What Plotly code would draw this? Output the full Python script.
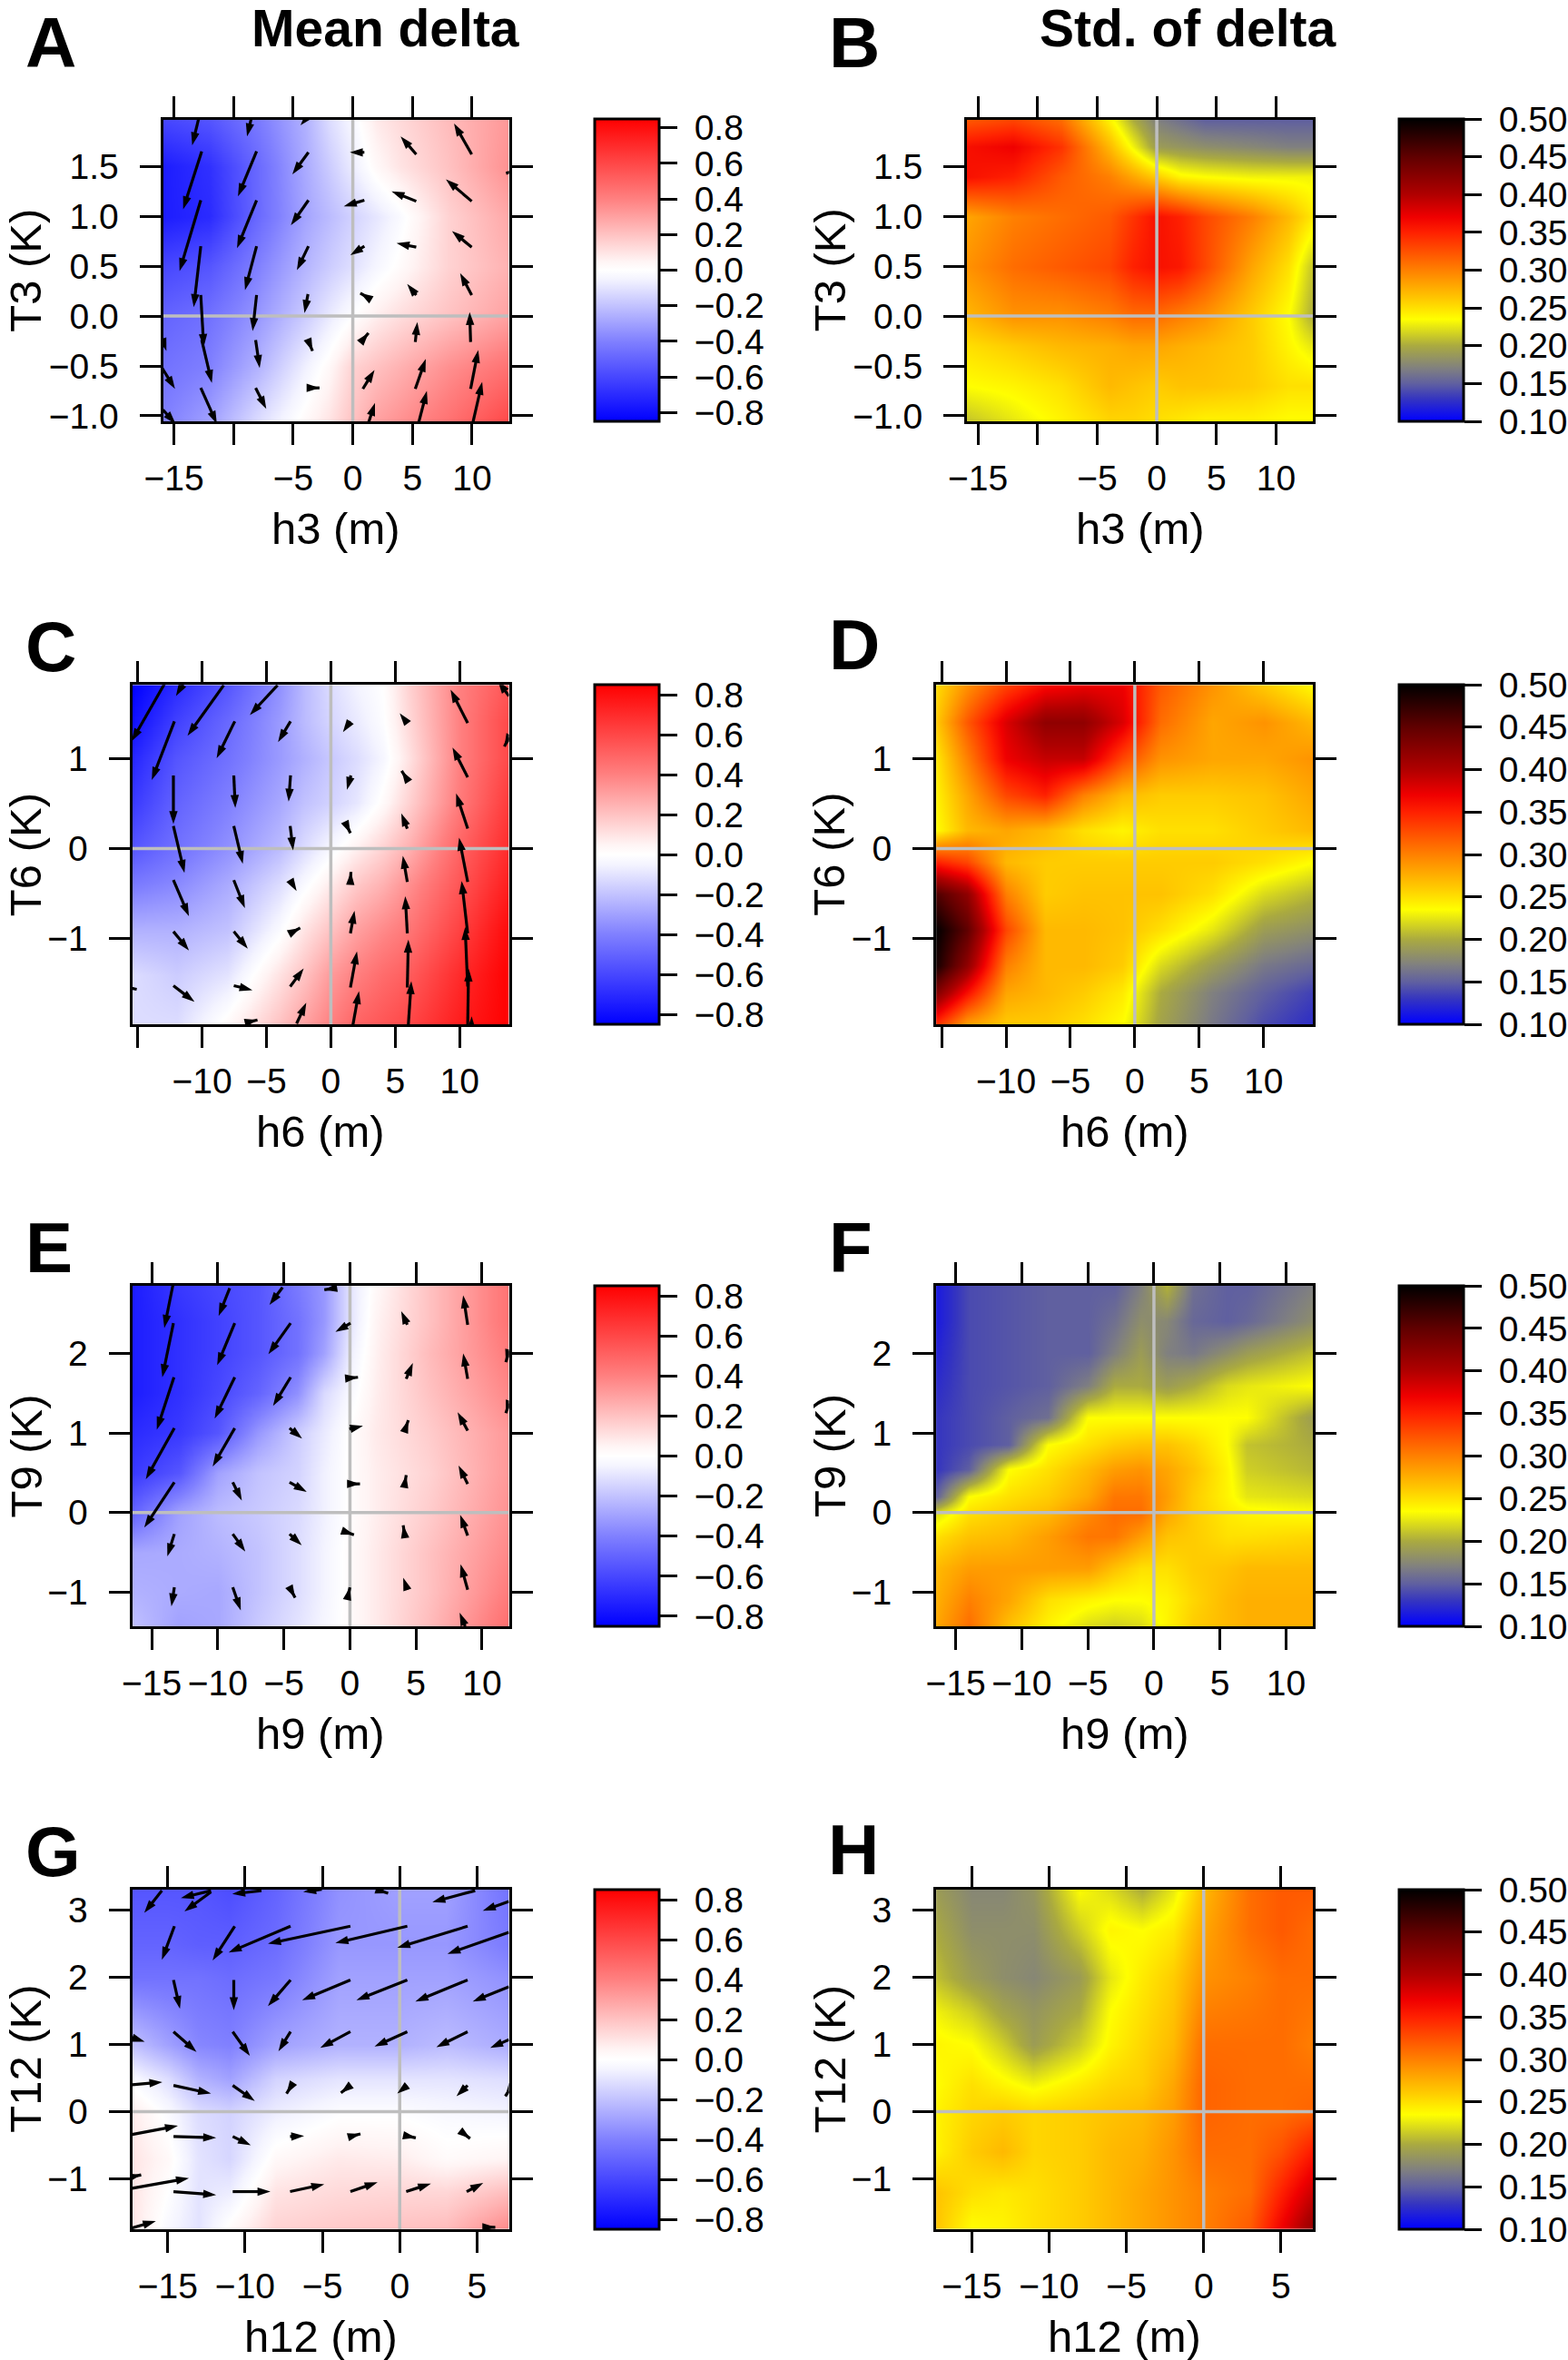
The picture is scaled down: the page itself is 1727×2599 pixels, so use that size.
import plotly.graph_objects as go

W, H = 1727, 2599
FONT = "Liberation Sans"
M = "\u2212"

# ---------- data: mean delta grids (rows listed from top of plot to bottom) ----------
X_A = [-16, -12, -8, -4, -2, 0, 2, 4, 8, 13.1]
Y_A = [1.97, 1.5, 1.0, 0.5, 0, -0.5, -1.06]
Z_A = [
 [-.6,-.55,-.42,-.25,-.12,-.03,.08,.13,.22,.33],
 [-.75,-.68,-.48,-.27,-.17,-.07,.03,.1,.2,.35],
 [-.75,-.7,-.48,-.29,-.22,-.15,-.09,-.02,.15,.28],
 [-.6,-.55,-.4,-.24,-.17,-.11,-.04,.02,.15,.25],
 [-.5,-.45,-.33,-.17,-.08,0,.07,.12,.2,.3],
 [-.45,-.4,-.25,-.06,.03,.15,.2,.25,.35,.45],
 [-.4,-.3,-.12,.03,.1,.2,.3,.35,.45,.6],
]
X_C = [-15.5, -12, -8, -4, -2, 0, 2, 4, 6, 10, 13.9]
Y_C = [1.82, 1.4, 1, .5, 0, -.4, -.9, -1.4, -1.96]
Z_C = [
 [-.85,-.7,-.55,-.35,-.22,-.12,-.05,0,.15,.4,.55],
 [-.8,-.62,-.48,-.32,-.22,-.14,-.08,-.01,.13,.4,.6],
 [-.72,-.55,-.45,-.32,-.25,-.18,-.12,-.04,.1,.4,.6],
 [-.65,-.5,-.4,-.28,-.2,-.15,-.09,.02,.15,.42,.65],
 [-.55,-.45,-.35,-.22,-.12,-.03,.06,.15,.25,.5,.7],
 [-.42,-.37,-.27,-.12,-.02,.08,.18,.25,.35,.55,.75],
 [-.25,-.25,-.2,-.02,.1,.2,.3,.37,.43,.62,.82],
 [-.12,-.17,-.1,.1,.2,.32,.4,.47,.52,.7,.85],
 [-.12,-.12,.03,.2,.3,.4,.5,.55,.6,.75,.85],
]
X_E = [-16.5, -13, -10, -7, -4, -2, 0, 2, 6, 12.1]
Y_E = [2.86, 2.4, 2, 1.5, 1, .5, 0, -.5, -1, -1.44]
Z_E = [
 [-.75,-.65,-.6,-.55,-.42,-.33,-.1,.03,.2,.45],
 [-.75,-.68,-.62,-.55,-.45,-.33,-.1,.05,.2,.45],
 [-.75,-.68,-.62,-.55,-.45,-.3,-.07,.06,.22,.42],
 [-.75,-.68,-.6,-.5,-.35,-.13,-.03,.07,.2,.38],
 [-.7,-.65,-.55,-.33,-.17,-.08,.01,.08,.17,.33],
 [-.65,-.55,-.3,-.2,-.15,-.06,.01,.07,.15,.33],
 [-.5,-.3,-.22,-.18,-.13,-.06,.01,.07,.17,.35],
 [-.28,-.27,-.25,-.2,-.12,-.05,.02,.08,.2,.38],
 [-.25,-.27,-.28,-.2,-.12,-.05,.02,.08,.2,.42],
 [-.2,-.3,-.28,-.18,-.1,-.04,.02,.08,.22,.47],
]
X_G = [-17.4, -15, -13, -11, -8, -4, 0, 3, 7.1]
Y_G = [3.32, 2.5, 2, 1, .5, 0, -.7, -1.2, -1.76]
Z_G = [
 [-.55,-.55,-.55,-.58,-.5,-.35,-.3,-.3,-.45],
 [-.5,-.5,-.52,-.52,-.47,-.33,-.33,-.33,-.42],
 [-.45,-.45,-.45,-.47,-.43,-.3,-.3,-.3,-.35],
 [-.2,-.3,-.38,-.4,-.3,-.25,-.25,-.22,-.27],
 [-.02,-.12,-.25,-.3,-.15,-.1,-.1,-.1,-.12],
 [.08,-.02,-.12,-.15,-.07,-.01,-.01,-.03,-.05],
 [.1,.03,-.1,-.14,.03,.08,.07,.02,.05],
 [.1,0,-.1,-.07,.1,.13,.14,.14,.22],
 [.1,-.03,-.1,.02,.15,.18,.2,.22,.38],
]

# ---------- data: std of delta grids ----------
X_B = [-16, -12, -8, -4, -2, 0, 2, 4, 8, 11, 13.1]
Y_B = [1.97, 1.7, 1.4, 1, .5, 0, -.3, -.7, -1.06]
Z_B = [
 [.32,.33,.31,.24,.2,.17,.16,.15,.15,.15,.15],
 [.36,.37,.34,.27,.23,.19,.185,.18,.175,.17,.17],
 [.36,.35,.32,.3,.28,.26,.24,.235,.23,.23,.23],
 [.28,.3,.31,.32,.34,.36,.35,.33,.3,.27,.245],
 [.29,.31,.32,.33,.35,.36,.355,.33,.28,.25,.21],
 [.27,.29,.29,.3,.31,.31,.3,.29,.26,.235,.2],
 [.25,.26,.27,.275,.28,.28,.275,.27,.26,.24,.225],
 [.235,.24,.25,.27,.265,.26,.265,.265,.26,.25,.25],
 [.21,.225,.24,.255,.255,.25,.245,.24,.24,.235,.235],
]
X_D = [-15.5, -13, -10, -7, -4, -1, 2, 6, 10, 13.9]
Y_D = [1.82, 1.4, 1, .6, .2, -.15, -.5, -.9, -1.3, -1.6, -1.96]
Z_D = [
 [.25,.29,.33,.36,.37,.37,.32,.29,.26,.235],
 [.26,.32,.38,.42,.42,.38,.31,.28,.29,.27],
 [.245,.3,.37,.39,.39,.33,.29,.28,.28,.29],
 [.24,.28,.33,.35,.30,.27,.26,.26,.265,.28],
 [.235,.27,.28,.27,.25,.24,.25,.25,.26,.27],
 [.35,.33,.27,.26,.26,.26,.26,.26,.25,.235],
 [.46,.42,.3,.26,.265,.265,.265,.25,.22,.205],
 [.5,.45,.33,.27,.27,.265,.25,.225,.19,.18],
 [.49,.42,.3,.27,.27,.26,.22,.19,.165,.155],
 [.43,.36,.28,.27,.26,.245,.2,.17,.15,.135],
 [.34,.28,.26,.26,.25,.235,.195,.165,.14,.125],
]
X_F = [-16.5, -14, -11, -8, -5, -3, -1, 1, 3, 5.5, 7, 12.1]
Y_F = [2.86, 2.4, 2, 1.6, 1.2, .85, .55, .2, 0, -.3, -.7, -1.1, -1.44]
Z_F = [
 [.115,.14,.145,.15,.15,.15,.17,.205,.16,.15,.15,.17],
 [.115,.14,.145,.15,.15,.16,.18,.175,.155,.15,.155,.18],
 [.12,.14,.145,.15,.15,.17,.19,.17,.165,.18,.19,.21],
 [.125,.14,.145,.15,.17,.2,.2,.19,.2,.22,.225,.235],
 [.13,.14,.15,.16,.235,.235,.235,.235,.235,.235,.235,.19],
 [.13,.14,.15,.235,.25,.26,.265,.265,.255,.235,.21,.2],
 [.13,.15,.235,.25,.27,.285,.29,.28,.265,.24,.215,.205],
 [.15,.235,.25,.26,.28,.305,.305,.285,.26,.24,.225,.22],
 [.22,.25,.26,.27,.295,.31,.31,.28,.26,.245,.24,.235],
 [.25,.265,.27,.285,.305,.305,.285,.265,.26,.25,.25,.255],
 [.27,.285,.285,.285,.285,.265,.25,.25,.26,.265,.27,.27],
 [.275,.3,.28,.25,.24,.235,.235,.24,.255,.27,.275,.275],
 [.28,.31,.265,.24,.22,.215,.22,.24,.26,.27,.275,.275],
]
X_H = [-17.4, -15, -13, -11, -8, -6, -4, -2, 0, 3, 5, 7.1]
Y_H = [3.32, 2.7, 2, 1.5, 1, .4, 0, -.6, -1.2, -1.76]
Z_H = [
 [.19,.175,.175,.185,.235,.22,.2,.225,.27,.31,.32,.32],
 [.2,.18,.18,.18,.215,.24,.235,.245,.28,.31,.32,.31],
 [.21,.19,.18,.175,.19,.225,.245,.26,.29,.3,.31,.31],
 [.23,.215,.195,.185,.2,.235,.25,.265,.3,.305,.31,.305],
 [.24,.235,.215,.19,.215,.24,.255,.27,.31,.31,.31,.3],
 [.235,.25,.24,.23,.245,.255,.26,.28,.315,.31,.31,.31],
 [.24,.255,.26,.255,.26,.265,.27,.285,.315,.31,.31,.315],
 [.24,.26,.27,.255,.26,.27,.275,.29,.31,.31,.325,.355],
 [.265,.25,.245,.25,.26,.27,.28,.29,.3,.31,.35,.39],
 [.265,.235,.24,.25,.26,.27,.28,.29,.3,.32,.37,.42],
]

# ---------- data: arrows (tail h, tail T, head h, head T) ----------
ARROWS_A = [
 (-12.7,2.09,-13.47,1.71),(-12.67,1.65,-14.23,1.07),(-12.75,1.16,-14.53,.45),(-12.75,.70,-13.34,.09),
 (-12.75,.21,-12.5,-.31),(-12.67,-.24,-11.82,-.67),(-12.75,-.72,-11.4,-1.08),
 (-8.3,2.09,-8.87,1.80),(-8.07,1.65,-9.63,1.20),(-8.07,1.16,-9.71,.68),(-8.07,.70,-9.04,.26),
 (-8.07,.21,-8.40,-.15),(-8.15,-.24,-7.81,-.52),(-8.15,-.72,-7.26,-.93),
 (-3.67,2.01,-4.39,1.91),(-3.72,1.64,-5.07,1.42),(-3.72,1.16,-5.19,.91),(-3.72,.70,-4.69,.46),
 (-3.76,.22,-4.05,.03),(-3.76,-.24,-3.38,-.35),(-3.76,-.72,-2.79,-.72),
 (.97,1.64,-.25,1.64),(.97,1.16,-.76,1.10),(.97,.70,-.21,.61),(1.18,.19,.63,.23),
 (.76,-.25,1.31,-.17),(.84,-.73,1.82,-.54),(1.18,-1.12,1.86,-.87),
 (5.32,1.62,4.01,1.80),(5.32,1.15,3.25,1.25),(5.32,.69,3.67,.73),(5.32,.21,4.56,.32),
 (5.24,-.26,5.41,-.06),(5.24,-.73,6.12,-.43),(5.41,-1.12,6.21,-.75),
 (9.97,1.62,8.49,1.93),(9.97,1.15,7.81,1.37),(9.97,.69,8.32,.85),(9.97,.21,9.0,.43),
 (9.88,-.26,9.8,.04),(9.88,-.73,10.52,-.34),(9.97,-1.12,10.85,-.66),
 (-16.05,-.20,-15.63,-.35),(-16.1,-.5,-14.91,-.73),(-15.92,-.94,-14.86,-1.08),(13.4,1.45,12.85,1.43),
]
ARROWS_C = [
 (-12.62,1.90,-15.47,1.19),(-11.33,1.86,-12.03,1.69),(-12.15,1.41,-13.91,.76),(-12.23,.81,-12.23,.27),
 (-12.23,.25,-11.37,-.27),(-12.23,-.35,-11.02,-.75),(-12.23,-.92,-11.02,-1.13),(-12.23,-1.52,-10.59,-1.70),
 (-8.32,1.81,-11.13,1.25),(-7.46,1.41,-8.87,1.0),(-7.54,.81,-7.42,.45),(-7.54,.25,-6.84,-.17),
 (-7.54,-.35,-6.68,-.66),(-7.54,-.92,-6.45,-1.11),(-7.54,-1.52,-6.09,-1.57),(-6.3,-1.92,-5.7,-1.90),
 (-4.14,1.81,-6.29,1.48),(-3.13,1.41,-4.1,1.18),(-3.13,.81,-3.28,.52),(-3.16,.25,-2.93,-.02),
 (-3.16,-.35,-2.66,-.47),(-3.16,-.94,-2.38,-.88),(-3.16,-1.53,-2.11,-1.33),(-2.66,-1.94,-1.91,-1.71),
 (1.52,1.41,.94,1.29),(1.56,.81,1.25,.65),(1.25,.25,1.52,.17),(1.52,-.37,1.56,-.26),
 (1.52,-.94,1.84,-.69),(1.52,-1.54,2.03,-1.14),(1.72,-1.95,2.19,-1.58),
 (5.94,1.39,5.35,1.5),(5.86,.78,5.5,.86),(5.94,.22,5.47,.39),(5.94,-.37,5.59,-.08),
 (5.94,-.94,5.78,-.53),(5.94,-1.54,6.02,-1.01),(6.02,-1.95,6.25,-1.47),
 (10.63,1.39,9.3,1.76),(10.63,.79,9.45,1.12),(10.63,.22,9.73,.61),(10.63,-.37,9.96,.12),
 (10.63,-.94,10.16,-.36),(10.63,-1.53,10.43,-.87),(10.63,-1.95,10.7,-1.33),(10.9,-2.1,10.94,-1.86),
 (13.83,1.69,12.97,1.86),(13.83,1.23,13.48,1.13),(-15.8,-1.54,-15.08,-1.56),
]
ARROWS_E = [
 (-13.36,2.89,-14.05,2.32),(-13.36,2.38,-14.2,1.70),(-13.32,1.70,-14.62,1.04),(-13.29,1.06,-15.45,.42),
 (-13.29,.38,-15.57,-.19),(-13.29,-.27,-13.82,-.55),(-13.29,-.94,-13.51,-1.18),
 (-9.1,2.82,-9.94,2.47),(-8.72,2.38,-10.05,1.85),(-8.72,1.70,-10.24,1.18),(-8.72,1.06,-10.39,.58),
 (-8.87,.38,-8.18,.15),(-8.87,-.27,-7.92,-.49),(-8.87,-.94,-8.26,-1.23),
 (-5.1,2.83,-6.09,2.61),(-4.49,2.38,-6.17,1.99),(-4.49,1.70,-5.82,1.34),(-4.57,1.06,-3.62,.93),
 (-4.57,.38,-3.27,.26),(-4.57,-.27,-3.65,-.41),(-4.57,-.94,-4.15,-1.07),(-1.18,2.82,-1.94,2.80),
 (.04,2.38,-1.1,2.27),(-.04,1.69,.61,1.70),(-.04,1.05,.99,1.09),(-.04,.36,.76,.36),
 (-.23,-.25,.3,-.28),(-.11,-1.02,0,-.94),
 (4.34,2.36,3.88,2.53),(4.26,1.68,4.76,1.88),(4.15,1.03,4.42,1.16),(4.15,.36,4.26,.47),
 (4.15,-.29,4.03,-.16),(4.34,-.97,4.03,-.82),
 (8.91,2.36,8.57,2.73),(8.91,1.68,8.57,2.0),(8.91,1.03,8.15,1.26),(8.91,.36,8.22,.59),
 (8.91,-.29,8.34,-.03),(8.91,-.97,8.37,-.65),(8.72,-1.43,8.3,-1.26),
 (12.03,2.03,11.8,1.89),(12.03,1.37,11.8,1.25),
]
ARROWS_G = [
 (-15.38,3.29,-16.52,2.96),(-12.2,3.29,-14.15,3.18),(-12.2,3.27,-13.92,2.98),(-8.94,3.29,-10.83,3.24),
 (-5.04,3.31,-6.24,3.27),(-1.3,3.29,-.75,3.25),(4.88,3.29,2.11,3.12),(7.06,3.13,5.37,2.99),
 (-14.57,2.76,-15.38,2.26),(-10.67,2.76,-12.1,2.25),(-7.06,2.76,-11.06,2.37),(-3.19,2.76,-8.52,2.5),
 (.49,2.76,-4.16,2.51),(4.39,2.76,-.16,2.44),(7.06,2.67,3.09,2.35),
 (-14.63,1.96,-14.21,1.53),(-10.73,1.96,-10.73,1.51),(-7.06,1.96,-8.52,1.57),(-3.19,1.96,-6.31,1.66),
 (.49,1.96,-2.8,1.66),(4.39,1.96,1.01,1.64),(7.06,1.86,4.72,1.64),
 (-17.3,1.10,-16.49,1.04),(-14.63,1.19,-13.14,.89),(-10.8,1.19,-9.69,.83),(-7.06,1.19,-7.84,.9),
 (-3.19,1.19,-5.14,.95),(.49,1.19,-1.63,.97),(4.39,1.19,2.37,.96),(7.06,1.07,5.85,.95),
 (-17.3,.40,-15.35,.44),(-14.63,.39,-12.2,.27),(-10.8,.39,-9.37,.16),(-6.99,.39,-7.32,.27),
 (-3.19,.39,-3.8,.28),(.49,.39,-.16,.27),(4.39,.39,3.67,.23),(7.06,.31,6.83,.23),
 (-17.3,-.34,-14.34,-.21),(-14.63,-.37,-11.87,-.39),(-10.8,-.37,-9.63,-.5),(-7.09,-.37,-6.18,-.36),
 (-3.19,-.37,-2.54,-.33),(.42,-.36,1.04,-.39),(4.1,-.32,4.55,-.4),
 (-17.3,-.97,-16.72,-.94),(-17.3,-1.14,-13.63,-.99),(-14.63,-1.19,-11.87,-1.24),(-10.8,-1.19,-8.36,-1.19),
 (-7.09,-1.19,-4.88,-1.08),(-3.19,-1.19,-1.43,-1.05),(.42,-1.19,2.02,-1.07),(4.33,-1.19,5.4,-1.06),
 (-17.3,-1.73,-15.77,-1.63),(5.69,-1.72,6.18,-1.72),
]

# ---------- data: tick labels ----------
XT_3 = [-15, -10, -5, 0, 5, 10]
XL_3 = [M+"15", "", M+"5", "0", "5", "10"]
XL_6 = ["", M+"10", M+"5", "0", "5", "10"]
XL_9 = [M+"15", M+"10", M+"5", "0", "5", "10"]
XT_12 = [-15, -10, -5, 0, 5]
XL_12 = [M+"15", M+"10", M+"5", "0", "5"]
YT_3 = [-1, -.5, 0, .5, 1, 1.5]
YL_3 = [M+"1.0", M+"0.5", "0.0", "0.5", "1.0", "1.5"]
YT_6 = [-1, 0, 1]
YL_6 = [M+"1", "0", "1"]
YT_9 = [-1, 0, 1, 2]
YL_9 = [M+"1", "0", "1", "2"]
YT_12 = [-1, 0, 1, 2, 3]
YL_12 = [M+"1", "0", "1", "2", "3"]

CB_MEAN_T = [-.8, -.6, -.4, -.2, 0, .2, .4, .6, .8]
CB_MEAN_L = [M+"0.8", M+"0.6", M+"0.4", M+"0.2", "0.0", "0.2", "0.4", "0.6", "0.8"]
CB_STD_T = [.1, .15, .2, .25, .3, .35, .4, .45, .5]
CB_STD_L = ["0.10", "0.15", "0.20", "0.25", "0.30", "0.35", "0.40", "0.45", "0.50"]

# ---------- colours ----------
MEAN_RANGE = (-.85, .85)
STD_RANGE = (.1, .5)
MEAN_STOPS = [(-.85,"#0000ff"),(-.4,"#8080ff"),(-.05,"#f4f4ff"),(0,"#ffffff"),(.05,"#fff4f4"),(.4,"#ff8080"),(.85,"#ff0000")]
STD_STOPS = [(.10,"#0000ff"),(.13,"#3535c0"),(.15,"#6060a0"),(.17,"#808080"),(.20,"#aaaa40"),(.235,"#ffff00"),
             (.26,"#ffcc00"),(.30,"#ff8000"),(.35,"#ff2000"),(.37,"#f00000"),(.40,"#b00000"),(.45,"#600000"),(.50,"#000000")]
def cscale(stops, rng):
    return [[(v-rng[0])/(rng[1]-rng[0]), c] for v, c in stops]

# ---------- layout geometry in px ----------
ROWS = [(131.5, 464), (754.3, 1128), (1416, 1791), (2080.6, 2455)]
LEFTS = [179.5, 145.6, 145.6, 145.6]
RIGHT_END = 560.5
COL_OFF = 885.5
CB_L = 655
CB_W = 70.5

PANELS = [
 ("A", 0, 0, X_A, Y_A, Z_A, (-15.92,13.09), (-1.055,1.97), XT_3, XL_3, YT_3, YL_3, "h3 (m)", "T3 (K)", ARROWS_A),
 ("B", 0, 1, X_B, Y_B, Z_B, (-15.92,13.09), (-1.055,1.97), XT_3, XL_3, YT_3, YL_3, "h3 (m)", "T3 (K)", None),
 ("C", 1, 0, X_C, Y_C, Z_C, (-15.43,13.83), (-1.948,1.813), XT_3, XL_6, YT_6, YL_6, "h6 (m)", "T6 (K)", ARROWS_C),
 ("D", 1, 1, X_D, Y_D, Z_D, (-15.43,13.83), (-1.948,1.813), XT_3, XL_6, YT_6, YL_6, "h6 (m)", "T6 (K)", None),
 ("E", 2, 0, X_E, Y_E, Z_E, (-16.48,12.03), (-1.43,2.85), XT_3, XL_9, YT_9, YL_9, "h9 (m)", "T9 (K)", ARROWS_E),
 ("F", 2, 1, X_F, Y_F, Z_F, (-16.48,12.03), (-1.43,2.85), XT_3, XL_9, YT_9, YL_9, "h9 (m)", "T9 (K)", None),
 ("G", 3, 0, X_G, Y_G, Z_G, (-17.3,7.06), (-1.75,3.31), XT_12, XL_12, YT_12, YL_12, "h12 (m)", "T12 (K)", ARROWS_G),
 ("H", 3, 1, X_H, Y_H, Z_H, (-17.3,7.06), (-1.75,3.31), XT_12, XL_12, YT_12, YL_12, "h12 (m)", "T12 (K)", None),
]
LETTER_POS = {"A":(56,47),"B":(941,47),"C":(56,712),"D":(941,710),"E":(54,1374),"F":(937,1374),"G":(58,2039),"H":(940,2037)}

fig = go.Figure()
layout = {}
annots = []
def note(text, px, py, size, angle=0):
    annots.append(dict(text=text, x=px/W, y=1-py/H, xref="paper", yref="paper", showarrow=False,
                       xanchor="center", yanchor="middle", textangle=angle,
                       font=dict(family=FONT, size=size, color="black")))

for i, (name, row, col, gx, gy, gz, xr, yr, xt, xl, yt, yl, xtitle, ytitle, arrows) in enumerate(PANELS):
    sfx = "" if i == 0 else str(i+1)
    top, bot = ROWS[row]
    off = COL_OFF * col
    left = LEFTS[row] + off
    right = RIGHT_END + off
    mean = col == 0
    rng = MEAN_RANGE if mean else STD_RANGE
    ax = dict(showgrid=False, zeroline=False, showline=True, linecolor="black", linewidth=3, mirror="allticks",
              ticks="outside", ticklen=23, tickwidth=3, tickcolor="black", tickmode="array",
              tickfont=dict(family=FONT, size=39, color="black"))
    layout["xaxis"+sfx] = dict(ax, domain=[left/W, right/W], range=list(xr), tickvals=xt, ticktext=xl,
                               anchor="y"+sfx, ticklabelstandoff=3)
    layout["yaxis"+sfx] = dict(ax, domain=[1-bot/H, 1-top/H], range=list(yr), tickvals=yt, ticktext=yl,
                               anchor="x"+sfx, ticklabelstandoff=15)
    fig.add_trace(go.Heatmap(
        x=gx, y=gy[::-1], z=gz[::-1], zmin=rng[0], zmax=rng[1], zsmooth="best",
        colorscale=cscale(MEAN_STOPS if mean else STD_STOPS, rng), xaxis="x"+sfx, yaxis="y"+sfx,
        hoverinfo="skip",
        colorbar=dict(x=(CB_L+off)/W, xanchor="left", y=1-bot/H, yanchor="bottom", len=(bot-top)/H,
                      lenmode="fraction", thickness=CB_W, thicknessmode="pixels", xpad=0, ypad=0,
                      outlinecolor="black", outlinewidth=3, ticks="outside", ticklen=19, tickwidth=3, tickcolor="black",
                      tickmode="array", tickvals=CB_MEAN_T if mean else CB_STD_T,
                      ticktext=[("\u00a0"+t) for t in (CB_MEAN_L if mean else CB_STD_L)],
                      tickfont=dict(family=FONT, size=39, color="black"))))
    fig.add_trace(go.Scatter(x=[xr[0], xr[1], None, 0, 0], y=[0, 0, None, yr[0], yr[1]], mode="lines",
                             line=dict(color="#bebebe", width=3.5), xaxis="x"+sfx, yaxis="y"+sfx, hoverinfo="skip"))
    if arrows:
        xs, ys, sz = [], [], []
        for tx, ty, hx, hy in arrows:
            xs += [tx, hx, None]; ys += [ty, hy, None]; sz += [0, 15, 0]
        fig.add_trace(go.Scatter(x=xs, y=ys, mode="lines+markers", line=dict(color="black", width=3.2),
                                 marker=dict(symbol="arrow", size=sz, color="black", opacity=1,
                                             angleref="previous", line=dict(width=0)),
                                 xaxis="x"+sfx, yaxis="y"+sfx, hoverinfo="skip"))
    lx, ly = LETTER_POS[name]
    note("<b>%s</b>" % name, lx, ly, 78)
    note(xtitle, (left+right)/2, bot+118, 49)
    note(ytitle, 28+off, (top+bot)/2, 49, -90)

note("<b>Mean delta</b>", 425, 31, 57)
note("<b>Std. of delta</b>", 1308, 31, 57)

fig.update_layout(width=W, height=H, margin=dict(l=0, r=0, t=0, b=0, autoexpand=False), autosize=False, showlegend=False,
                  plot_bgcolor="white", paper_bgcolor="white", annotations=annots, **layout)
fig.write_html("out.html", post_script="document.body.style.margin='0';", config={"displayModeBar": False})
